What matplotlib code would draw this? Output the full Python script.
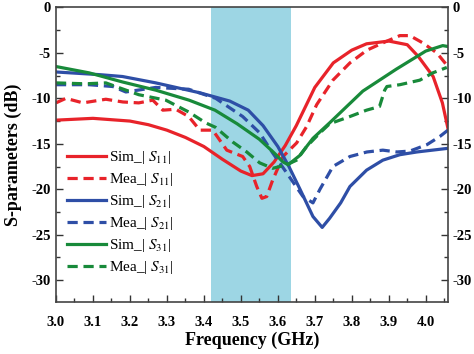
import numpy as np
import matplotlib
matplotlib.use("Agg")
import matplotlib.pyplot as plt
from matplotlib.ticker import MultipleLocator

plt.rcParams['font.family'] = 'Liberation Serif'
plt.rcParams['mathtext.fontset'] = 'stix'

# operating band (shaded)
band = (3.42, 3.635)

# Sim |S11|
f_s11_sim = [3.0, 3.1, 3.2, 3.25, 3.3, 3.35, 3.4, 3.45, 3.5, 3.53, 3.56, 3.59, 3.62, 3.65, 3.70, 3.75,
             3.80, 3.84, 3.90, 3.95, 3.98, 4.02, 4.045, 4.06]
s11_sim = [-12.4, -12.2, -12.5, -12.9, -13.5, -14.3, -15.3, -16.7, -18.0, -18.5, -18.3, -17.0, -15.2, -13.0, -8.8, -6.1,
           -4.7, -4.0, -3.7, -4.1, -5.4, -7.6, -10.5, -13.3]

# Mea |S11|
f_s11_mea = [3.0, 3.027, 3.073, 3.135, 3.181, 3.224, 3.262, 3.289, 3.324, 3.359, 3.389, 3.424, 3.462,
             3.505, 3.524, 3.543, 3.557, 3.570, 3.586, 3.614, 3.651, 3.678, 3.705, 3.749, 3.795,
             3.841, 3.884, 3.930, 3.957, 3.992, 4.03, 4.06]
s11_mea = [-10.5, -10.0, -10.5, -10.1, -10.4, -10.5, -10.2, -11.3, -11.2, -12.0, -13.5, -13.5, -15.7,
           -16.4, -17.5, -19.7, -21.0, -20.8, -19.0, -16.4, -14.9, -13.1, -10.7, -8.0, -6.1,
           -4.7, -3.9, -3.1, -3.1, -3.9, -5.0, -6.5]

# Sim |S21|
f_s21_sim = [3.0, 3.12, 3.18, 3.27, 3.39, 3.47, 3.52, 3.56, 3.60, 3.63, 3.66, 3.695, 3.72, 3.74,
             3.77, 3.795, 3.84, 3.884, 3.93, 3.976, 4.06]
s21_sim = [-7.1, -7.4, -7.6, -8.3, -9.4, -10.3, -11.3, -13.0, -15.3, -17.5, -20.0, -23.0, -24.2, -23.2,
           -21.5, -19.7, -17.9, -16.8, -16.2, -15.9, -15.5]

# Mea |S21|
f_s21_mea = [3.0, 3.089, 3.154, 3.189, 3.27, 3.359, 3.432, 3.505, 3.551, 3.586, 3.624, 3.651, 3.668,
             3.695, 3.714, 3.749, 3.795, 3.841, 3.884, 3.922, 3.957, 4.003, 4.038, 4.06]
s21_mea = [-8.5, -8.5, -8.7, -9.3, -8.8, -9.0, -10.0, -12.0, -13.8, -16.0, -18.2, -19.8, -20.8,
           -21.5, -20.0, -17.5, -16.4, -15.9, -15.7, -15.9, -15.8, -15.1, -14.2, -13.5]

# Sim |S31|
f_s31_sim = [3.0, 3.09, 3.18, 3.27, 3.36, 3.43, 3.49, 3.55, 3.59, 3.614, 3.628, 3.659, 3.695, 3.74,
             3.83, 3.92, 4.0, 4.046, 4.06]
s31_sim = [-6.5, -7.2, -8.2, -9.1, -10.2, -11.3, -12.8, -14.5, -16.0, -17.0, -17.3, -16.3, -14.4, -12.7,
           -9.2, -6.8, -4.8, -4.2, -4.3]

# Mea |S31|
f_s31_mea = [3.0, 3.08, 3.135, 3.162, 3.224, 3.297, 3.359, 3.405, 3.432, 3.478, 3.516, 3.551, 3.586,
             3.624, 3.651, 3.678, 3.714, 3.74, 3.795, 3.84, 3.875, 3.889, 3.895, 3.93, 3.984,
             4.019, 4.057]
s31_mea = [-8.3, -8.4, -8.3, -8.7, -9.6, -10.2, -11.5, -12.7, -13.2, -14.8, -15.9, -17.1, -17.7,
           -17.3, -16.8, -15.3, -13.8, -12.8, -12.0, -11.3, -10.9, -9.1, -8.7, -8.5, -8.0,
           -7.2, -6.6]

red = '#e8232a'
blue = '#2e4ea6'
green = '#188a3a'

fig = plt.figure(figsize=(4.74, 3.54), dpi=100)
ax = fig.add_axes([0.118, 0.147, 0.827, 0.832])

ax.axvspan(band[0], band[1], color='#9dd6e4', lw=0, zorder=0)

lw = 2.3
dash = (3.2, 1.8)
ax.plot(f_s11_sim, s11_sim, color=red, lw=lw, label=r'Sim_| $\mathit{S}_{11}$|')
ax.plot(f_s11_mea, s11_mea, color=red, lw=lw, dashes=dash, label=r'Mea_| $\mathit{S}_{11}$|')
ax.plot(f_s21_sim, s21_sim, color=blue, lw=lw, label=r'Sim_| $\mathit{S}_{21}$|')
ax.plot(f_s21_mea, s21_mea, color=blue, lw=lw, dashes=dash, label=r'Mea_| $\mathit{S}_{21}$|')
ax.plot(f_s31_sim, s31_sim, color=green, lw=lw, label=r'Sim_| $\mathit{S}_{31}$|')
ax.plot(f_s31_mea, s31_mea, color=green, lw=lw, dashes=dash, label=r'Mea_| $\mathit{S}_{31}$|')

ax.set_xlim(3.0, 4.06)
ax.set_ylim(-32.4, 0)
ax.xaxis.set_minor_locator(MultipleLocator(0.05))
ax.yaxis.set_minor_locator(MultipleLocator(2.5))
ax.tick_params(which='both', direction='in', right=True, labelright=True, width=1, colors='#333333')
ax.tick_params(which='major', length=5, labelsize=10.5, labelcolor='black')
ax.tick_params(which='minor', length=3)
ax.tick_params(axis='x', which='major', pad=10)

xt = np.arange(3.0, 4.01, 0.1)
ax.set_xticks(xt)
ax.set_xticklabels(['%.1f' % v for v in xt], fontweight='bold')
yt = np.arange(-30, 1, 5)
ax.set_yticks(yt)
ax.set_yticklabels(['%d' % v for v in yt], fontweight='bold')
for t in ax.yaxis.get_major_ticks():
    t.label2.set_fontweight('bold')
for s in ax.spines.values():
    s.set_color('#444444')
    s.set_linewidth(1.2)

ax.set_xlabel('Frequency (GHz)', fontsize=13, fontweight='bold', labelpad=2)
ax.set_ylabel('S-parameters (dB)', fontsize=13, fontweight='bold', labelpad=7)

leg = ax.legend(loc='upper left', bbox_to_anchor=(0.0, 0.555), frameon=False, fontsize=11,
                handlelength=2.6, handletextpad=0.2, labelspacing=0.33, borderaxespad=0.3)

fig.savefig('out.png', dpi=100)
